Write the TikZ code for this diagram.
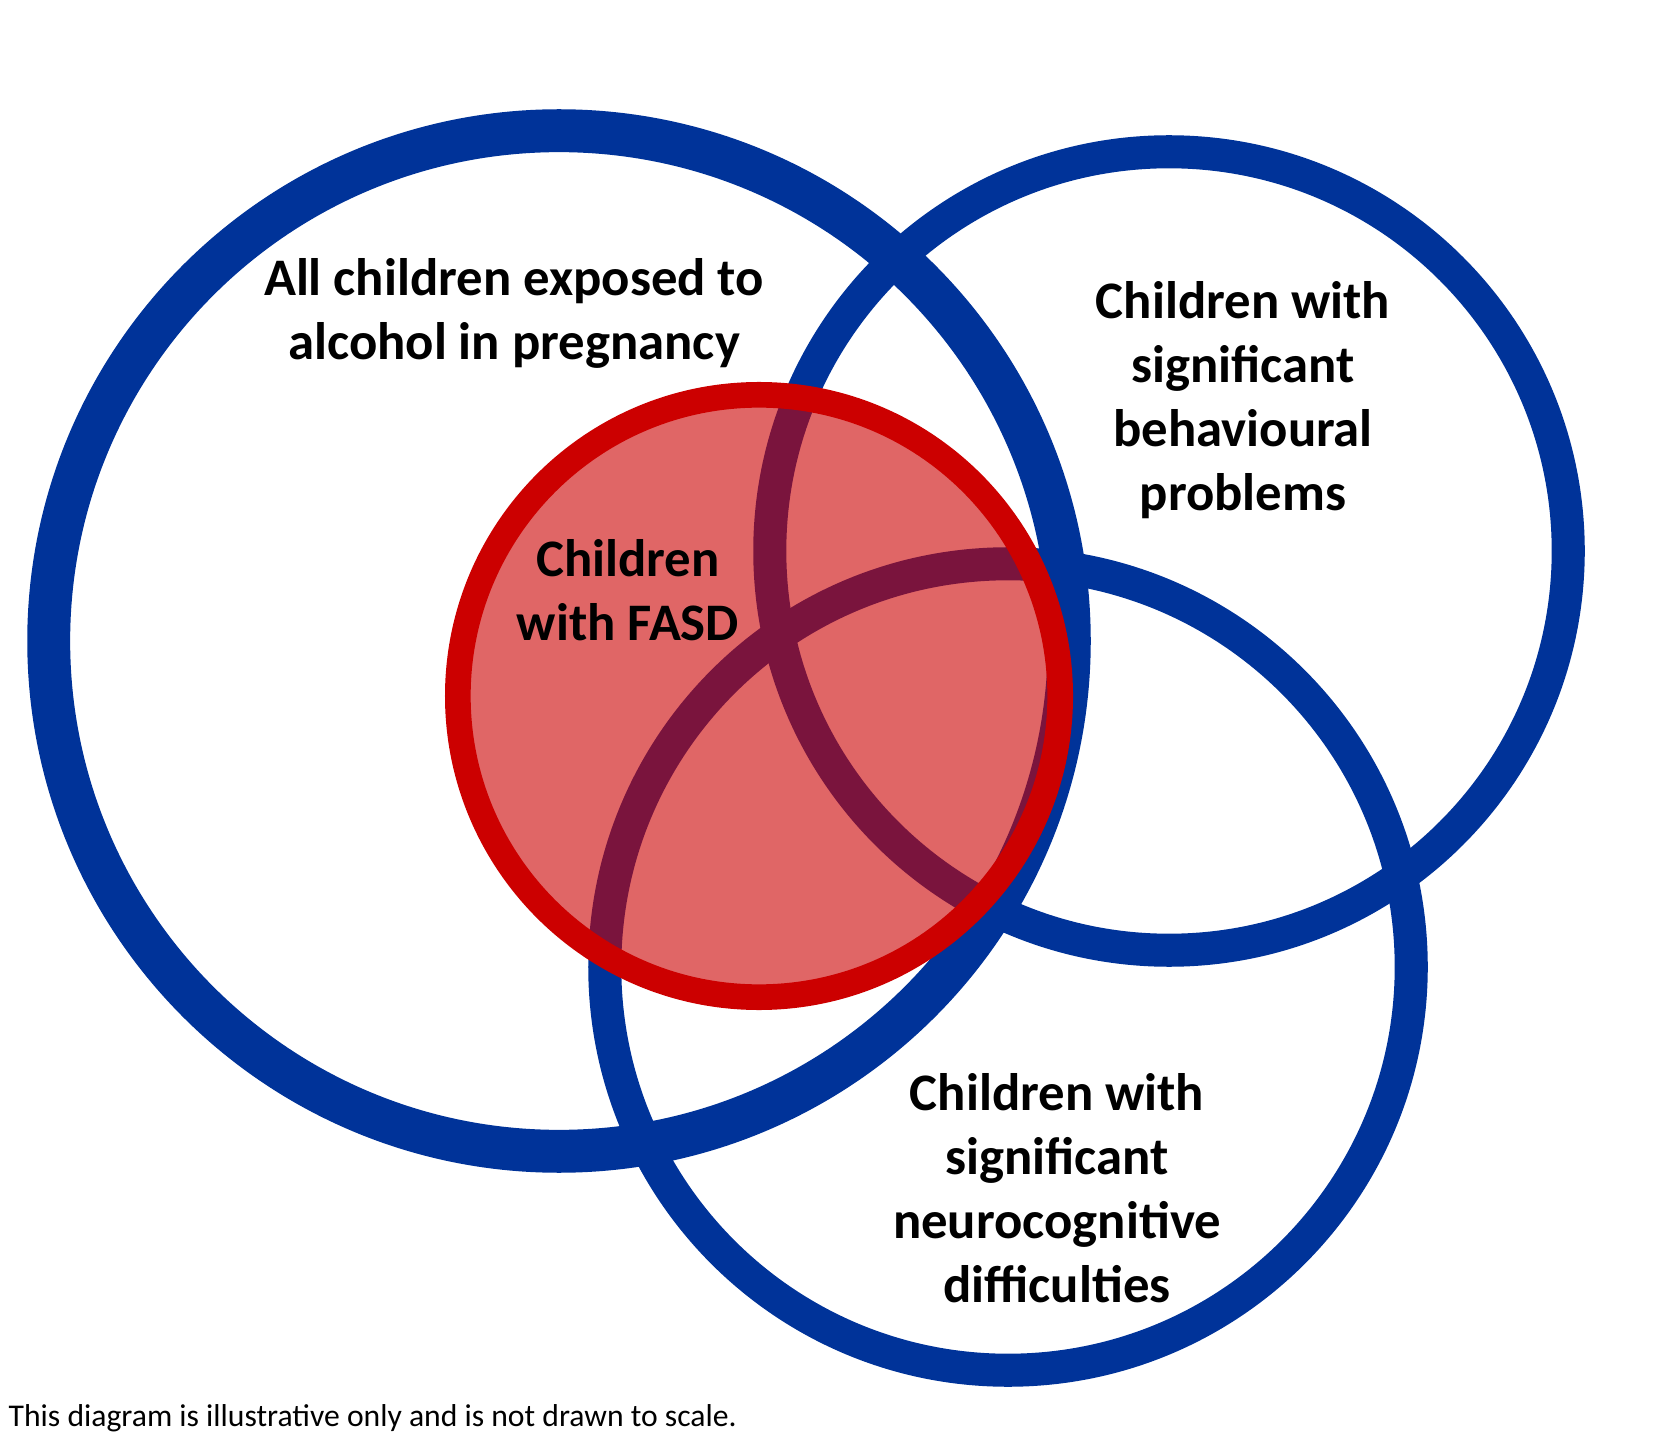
\documentclass[tikz,border=0pt]{standalone}
\usepackage{fontspec}
\setmainfont{Carlito}

\definecolor{setblue}{HTML}{003399}
\definecolor{fasdred}{HTML}{CC0000}

\tikzset{
    setring/.style={draw=setblue, line width=#1},
    label/.style={font=\bfseries\fontsize{15pt}{18.2pt}\selectfont, align=center, text=black}
}

\begin{document}
\begin{tikzpicture}[x=0.01cm, y=-0.01cm]
    % Page, 1667 x 1440 px
    \useasboundingbox (0,0) rectangle (1667,1440);

    % Sets
    \draw[setring=12.2pt] (559,641) circle (5.10cm); % All exposed children
    \draw[setring=9.4pt] (1169,551) circle (3.99cm); % Behavioural problems
    \draw[setring=9.4pt] (1008,967) circle (4.03cm); % Neurocognitive difficulties

    % FASD, see-through fill over the blue rings
    \draw[draw=fasdred, line width=7.3pt, fill=fasdred, fill opacity=0.6] (759,696) circle (3.01cm);

    % Labels
    \node[label] (exposed) at (514,313) {All children exposed to\\alcohol in pregnancy};
    \node[label] (behaviour) at (1243,400) {Children with\\significant\\behavioural\\problems};
    \node[label] (fasd) at (628,590) {Children\\with FASD};
    \node[label] (neuro) at (1057,1188) {Children with\\significant\\neurocognitive\\difficulties};

    % Footnote
    \node[anchor=west, inner sep=0pt, font=\fontsize{9pt}{10.8pt}\selectfont] (note) at (8,1418) {This diagram is illustrative only and is not drawn to scale.};
\end{tikzpicture}
\end{document}
